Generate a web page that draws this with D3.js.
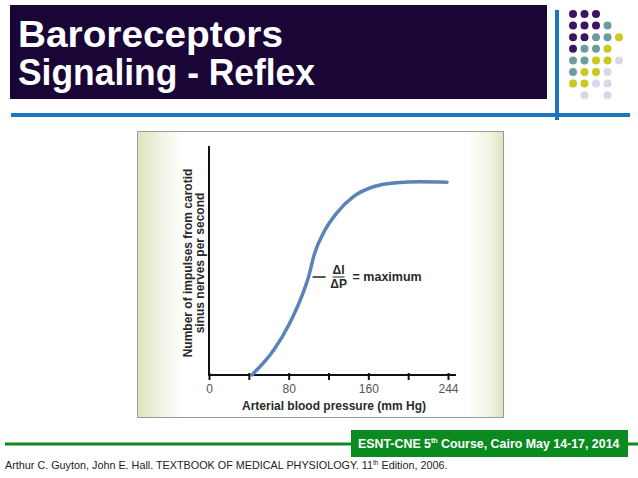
<!DOCTYPE html>
<html>
<head>
<meta charset="utf-8">
<script src="https://cdn.jsdelivr.net/npm/d3@7"></script>
<style>
  html, body { margin: 0; padding: 0; background: #fff; }
  svg { display: block; font-family: Arial, "Liberation Sans", sans-serif; }
</style>
</head>
<body>
<svg id="c" width="638" height="478"></svg>
<script>
// ---- data ----
const titleLines = ["Baroreceptors", "Signaling - Reflex"];
const pressure = [43, 65, 81, 93, 100, 106, 116.5, 128, 145, 165, 188, 212, 239];
const impulses = [0, 10.9, 22.6, 34.2, 42.9, 53.1, 63.3, 70.6, 77.9, 82.2, 84, 84.4, 84.2];
const tickValues = [0, 40, 80, 120, 160, 200, 240];
const tickLabels = ["0", "", "80", "", "160", "", "244"];
const xLabel = "Arterial blood pressure (mm Hg)";
const yLabelLines = ["Number of impulses from carotid", "sinus nerves per second"];
const annotation = { num: "\u0394I", den: "\u0394P", text: "= maximum", at: 100 };
const footerBadge = ["ESNT-CNE 5", "th", " Course, Cairo May 14-17, 2014"];
const citation = ["Arthur C. Guyton, John E. Hall. TEXTBOOK OF MEDICAL PHYSIOLOGY. 11", "th", " Edition, 2006."];
// decorative dot grid (P purple, T teal, Y yellow, L lavender, . empty)
const dotRows = ["PPP..", "PPPT.", "PPTTY", "PTTY.", "TTYYL", "TYYL.", "YYLL.", ".L.L."];
const dotColors = { P: "#3b1562", T: "#6d9c9e", Y: "#c9c920", L: "#d8d8ec" };

const svg = d3.select("#c");

// ---- header ----
svg.append("rect").attr("x", 10).attr("y", 5).attr("width", 537).attr("height", 94).attr("fill", "#190536");
const titleWidths = [265, 297];
svg.selectAll("text.title").data(titleLines).join("text")
  .attr("class", "title")
  .attr("x", 18).attr("y", (d, i) => i === 0 ? 47 : 85)
  .attr("fill", "#fff").attr("font-weight", "bold").attr("font-size", 36)
  .attr("textLength", (d, i) => titleWidths[i]).attr("lengthAdjust", "spacingAndGlyphs")
  .text(d => d);

svg.append("rect").attr("x", 11).attr("y", 113).attr("width", 619).attr("height", 4).attr("fill", "#1b76bd");
svg.append("rect").attr("x", 555).attr("y", 10).attr("width", 4).attr("height", 110).attr("fill", "#1b76bd");

const cells = [];
dotRows.forEach((row, r) => row.split("").forEach((c, k) => { if (c !== ".") cells.push({ r, k, c }); }));
svg.selectAll("circle.dot").data(cells).join("circle")
  .attr("class", "dot")
  .attr("cx", d => 573 + d.k * 11.5)
  .attr("cy", d => 14 + d.r * 11.6)
  .attr("r", 4)
  .attr("fill", d => dotColors[d.c]);

// ---- chart frame ----
const defs = svg.append("defs");
const grad = defs.append("linearGradient").attr("id", "bg").attr("x1", "0").attr("x2", "1").attr("y1", "0").attr("y2", "0");
[[0, "#dde2bd"], [0.08, "#f6f7ec"], [0.13, "#ffffff"], [0.9, "#ffffff"], [0.96, "#f3f4e4"], [1, "#dfe3c2"]]
  .forEach(([o, c]) => grad.append("stop").attr("offset", o).attr("stop-color", c));
svg.append("rect").attr("x", 137.5).attr("y", 131.5).attr("width", 366).attr("height", 286)
  .attr("fill", "url(#bg)").attr("stroke", "#9a9a9a").attr("stroke-width", 1);

// ---- scales ----
const x = d3.scaleLinear().domain([0, 240]).range([209, 448]);
const y = d3.scaleLinear().domain([0, 100]).range([375, 146]);

// axes lines
svg.append("line").attr("x1", 209).attr("x2", 209).attr("y1", y(100)).attr("y2", y(0) + 1)
  .attr("stroke", "#111").attr("stroke-width", 2);
svg.append("line").attr("x1", 208).attr("x2", x(248)).attr("y1", y(0)).attr("y2", y(0))
  .attr("stroke", "#111").attr("stroke-width", 2);

const xAxis = d3.axisBottom(x).tickValues(tickValues).tickSize(5).tickPadding(4)
  .tickFormat((d, i) => tickLabels[i]);
const gx = svg.append("g").attr("transform", `translate(0,${y(0)})`).call(xAxis);
gx.select(".domain").remove();
gx.selectAll(".tick line").attr("stroke", "#111").attr("stroke-width", 2).attr("y1", -2);
gx.selectAll(".tick text").attr("font-size", 12).attr("fill", "#555")
  .attr("font-family", "Arial, 'Liberation Sans', sans-serif");

svg.append("text").attr("x", 334).attr("y", 410).attr("text-anchor", "middle")
  .attr("font-weight", "bold").attr("font-size", 12).attr("fill", "#2a2a2a").text(xLabel);

svg.selectAll("text.ylab").data(yLabelLines).join("text")
  .attr("class", "ylab")
  .attr("transform", (d, i) => `translate(${i === 0 ? 192 : 204},263) rotate(-90)`)
  .attr("text-anchor", "middle").attr("font-weight", "bold").attr("font-size", 12).attr("fill", "#2a2a2a")
  .text(d => d);

// ---- curve ----
const pts = pressure.map((p, i) => [p, impulses[i]]);
svg.append("path").datum(pts)
  .attr("fill", "none").attr("stroke", "#5a83b9").attr("stroke-width", 3.5).attr("stroke-linecap", "round")
  .attr("d", d3.line().x(d => x(d[0])).y(d => y(d[1])).curve(d3.curveMonotoneX));

// ---- annotation ----
const ay = 277;
svg.append("line").attr("x1", x(annotation.at) + 4).attr("x2", x(annotation.at) + 17).attr("y1", ay).attr("y2", ay)
  .attr("stroke", "#222").attr("stroke-width", 1.5);
const fx = x(annotation.at) + 30;
svg.append("text").attr("x", fx).attr("y", ay - 3).attr("text-anchor", "middle")
  .attr("font-weight", "bold").attr("font-size", 12).attr("fill", "#2a2a2a").text(annotation.num);
svg.append("line").attr("x1", fx - 6).attr("x2", fx + 6).attr("y1", ay).attr("y2", ay)
  .attr("stroke", "#222").attr("stroke-width", 1);
svg.append("text").attr("x", fx).attr("y", ay + 11).attr("text-anchor", "middle")
  .attr("font-weight", "bold").attr("font-size", 12).attr("fill", "#2a2a2a").text(annotation.den);
svg.append("text").attr("x", fx + 14).attr("y", ay + 4)
  .attr("font-weight", "bold").attr("font-size", 12.5).attr("fill", "#2a2a2a").text(annotation.text);

// ---- footer ----
svg.append("rect").attr("x", 5).attr("y", 442.5).attr("width", 633).attr("height", 3).attr("fill", "#0e8a24");
svg.append("rect").attr("x", 351).attr("y", 430).attr("width", 277).attr("height", 27).attr("fill", "#0b8a20");
const badge = svg.append("text").attr("x", 358).attr("y", 448).attr("fill", "#fff")
  .attr("font-weight", "bold").attr("font-size", 12.4);
badge.append("tspan").text(footerBadge[0]);
badge.append("tspan").attr("font-size", 7).attr("dy", -5).text(footerBadge[1]);
badge.append("tspan").attr("dy", 5).text(footerBadge[2]);

const cite = svg.append("text").attr("x", 5).attr("y", 469).attr("fill", "#222").attr("font-size", 10.8);
cite.append("tspan").text(citation[0]);
cite.append("tspan").attr("font-size", 6.5).attr("dy", -4).text(citation[1]);
cite.append("tspan").attr("dy", 4).text(citation[2]);
</script>
</body>
</html>
